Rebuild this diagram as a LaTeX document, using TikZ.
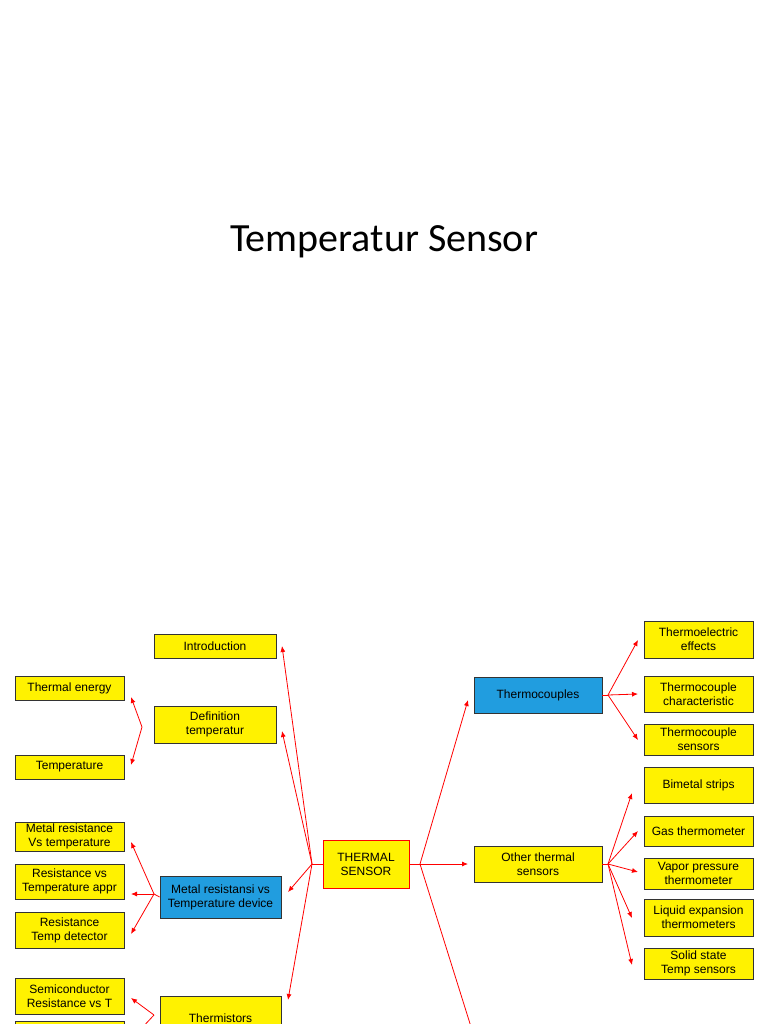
\documentclass[tikz,border=0pt]{standalone}
\usepackage{fontspec}
\setmainfont{Liberation Sans}
\newfontfamily\titlefont{Carlito}
\usetikzlibrary{arrows.meta}
\begin{document}
\begin{tikzpicture}[x=1pt,y=-1pt,
  box/.style={draw=black!80,line width=0.8pt,fill=yellow,align=center,font=\fontsize{12}{14}\selectfont,inner sep=0pt},
  blue box/.style={box,fill=cyan!80!blue!90},
  arr/.style={draw=red,line width=0.8pt,-{Latex[length=6pt,width=5pt]}},
  ln/.style={draw=red,line width=0.8pt}]
\useasboundingbox (0,0) rectangle (768,1024);
\clip (0,0) rectangle (768,1024);
\node[font=\titlefont\fontsize{40}{48}\selectfont] (title) at (384,242) {Temperatur Sensor};
\newcommand\bx[6]{\node[#1,minimum width=#4-#3,minimum height=#6-#5] (#2) at ({(#3+#4)/2},{(#5+#6)/2})}
\bx{box}{intro}{154}{276}{634}{658}{Introduction};
\bx{box}{energy}{15}{124}{676}{700}{Thermal energy};
\bx{box}{defn}{154}{276}{706}{743}{Definition\\temperatur};
\bx{box}{temp}{15}{124}{755}{779}{Temperature};
\bx{box}{metalr}{15}{124}{822}{851}{Metal resistance\\Vs temperature};
\bx{box}{rappr}{15}{124}{864}{899}{Resistance vs\\Temperature appr};
\bx{box}{rtd}{15}{124}{912}{948}{Resistance\\Temp detector};
\bx{blue box}{metal}{160}{281}{876}{918}{Metal resistansi vs\\Temperature device};
\bx{box,draw=red}{ts}{323}{409}{840}{888}{THERMAL\\SENSOR};
\bx{box}{semi}{15}{124}{978}{1014}{Semiconductor\\Resistance vs T};
\bx{box}{partial}{15}{124}{1021}{1057}{};
\bx{box}{therm}{160}{281}{996}{1040}{Thermistors};
\bx{blue box}{tc}{474}{602}{677}{713}{Thermocouples};
\bx{box}{tee}{644}{753}{621}{658}{Thermoelectric\\effects};
\bx{box}{tcc}{644}{753}{676}{712}{Thermocouple\\characteristic};
\bx{box}{tcs}{644}{753}{724}{755}{Thermocouple\\sensors};
\bx{box}{bim}{644}{753}{767}{803}{Bimetal strips};
\bx{box}{other}{474}{602}{846}{882}{Other thermal\\sensors};
\bx{box}{gas}{644}{753}{816}{846}{Gas thermometer};
\bx{box}{vap}{644}{753}{858}{889}{Vapor pressure\\thermometer};
\bx{box}{liq}{644}{753}{899}{936}{Liquid expansion\\thermometers};
\bx{box}{solid}{644}{753}{948}{979}{Solid state\\Temp sensors};
% hubs
\coordinate (hl) at (312,864);
\coordinate (hr) at (420,864);
\coordinate (hdown) at (472,1030);
\draw[ln] (ts.west) -- (hl); \draw[ln] (ts.east) -- (hr);
\draw[arr] (hl) -- (282,646);
\draw[arr] (hl) -- (282,731);
\draw[arr] (hl) -- (288,892);
\draw[arr] (hl) -- (288,1000);
\draw[arr] (hr) -- (468,700);
\draw[arr] (hr) -- (468,864);
\draw[ln] (hr) -- (hdown);
% thermocouples fan
\coordinate (ftc) at (608,695);
\draw[ln] (tc.east) -- (ftc);
\draw[arr] (ftc) -- (638,640);
\draw[arr] (ftc) -- (638,694);
\draw[arr] (ftc) -- (638,740);
% other fan
\coordinate (fo) at (608,864);
\draw[ln] (other.east) -- (fo);
\draw[arr] (fo) -- (632,793);
\draw[arr] (fo) -- (638,831);
\draw[arr] (fo) -- (638,872);
\draw[arr] (fo) -- (632,918);
\draw[arr] (fo) -- (632,965);
% definition fan
\coordinate (fd) at (142,727);
\draw[arr] (fd) -- (131,697);
\draw[arr] (fd) -- (131,765);
% metal fan
\coordinate (fm) at (154,894);
\draw[ln] (metal.west) -- (fm);
\draw[arr] (fm) -- (131,842);
\draw[arr] (fm) -- (131,894);
\draw[arr] (fm) -- (131,934);
% thermistors fan
\coordinate (fth) at (154,1015);
\draw[arr] (fth) -- (131,998);
\draw[ln] (fth) -- (140,1030);
\end{tikzpicture}
\end{document}
